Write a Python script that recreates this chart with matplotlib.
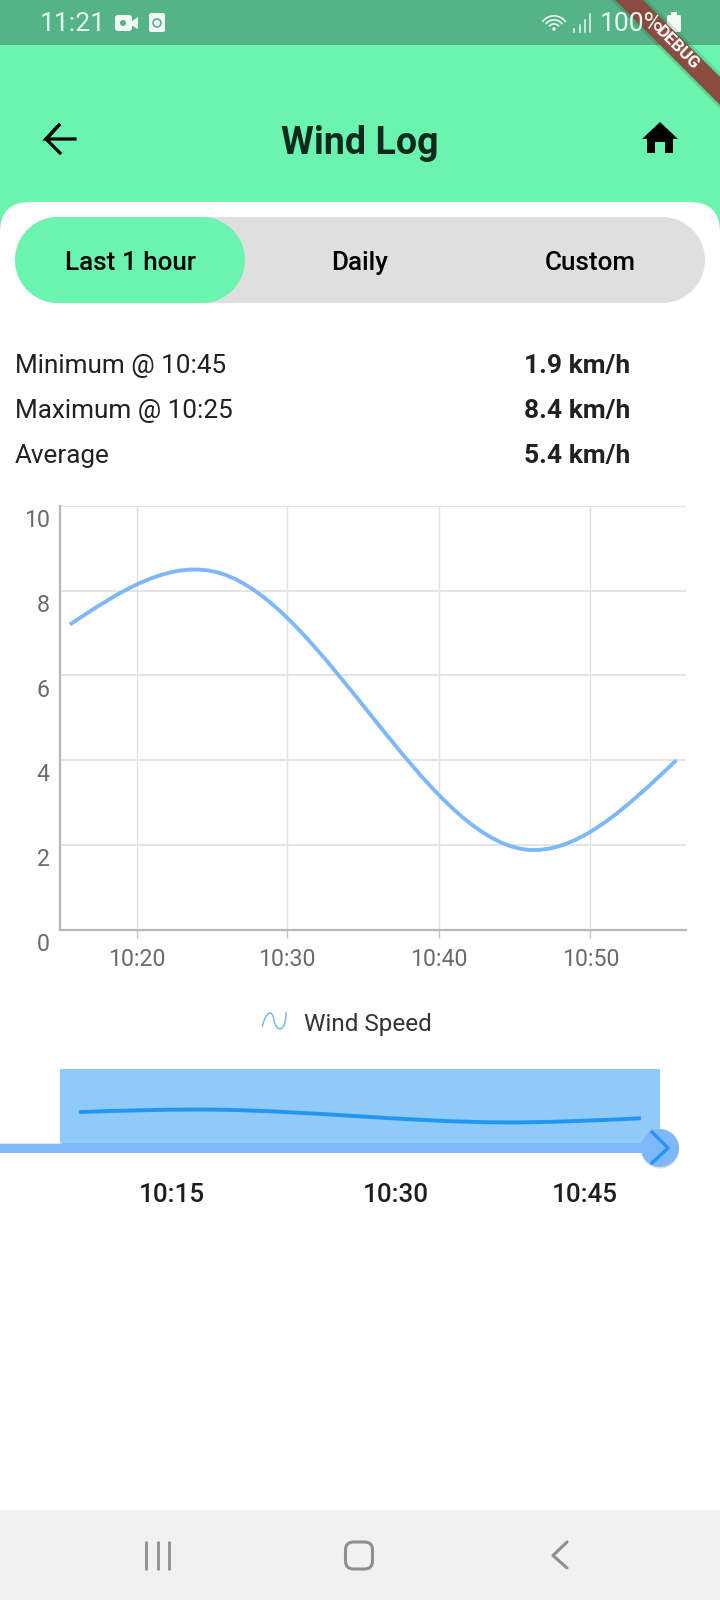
#!/usr/bin/env python3
import numpy as np
import matplotlib
matplotlib.use('Agg')
import matplotlib.pyplot as plt
from matplotlib.patches import Rectangle, FancyBboxPatch, Polygon, Circle, Arc, PathPatch
from matplotlib.path import Path

plt.rcParams['font.family'] = ['Roboto', 'DejaVu Sans']

# minutes after 10:00 and km/h, the five readings behind the curve
minutes = [15.57, 25.6, 35.62, 45.65, 55.68]
wind_speed = [7.2, 8.4, 5.0, 1.9, 4.0]
x_ticks = [20, 29.93, 40, 50]
x_labels = ['10:20', '10:30', '10:40', '10:50']
y_ticks = [0, 2, 4, 6, 8, 10]
range_labels = ['10:15', '10:30', '10:45']
tabs = ['Last 1 hour', 'Daily', 'Custom']
stat_names = ['Minimum @ 10:45', 'Maximum @ 10:25', 'Average']
stat_values = ['1.9 km/h', '8.4 km/h', '5.4 km/h']

W, H = 720, 1600
GREEN = '#6AF4B0'
BLUE = '#7FB8F9'
DARK_BLUE = '#2196F3'


def px_axes(x0, y0, x1, y1, **kw):
    # axes placed with screen pixels, y going down
    return fig.add_axes([x0 / W, 1 - y1 / H, (x1 - x0) / W, (y1 - y0) / H], **kw)


def spline_path(xs, ys):
    # natural cubic spline through the readings, as bezier segments (the app draws it this way)
    xs, ys = np.asarray(xs), np.asarray(ys)
    h = np.diff(xs)
    n = len(xs)
    A = np.zeros((n, n))
    b = np.zeros(n)
    A[0, 0] = A[-1, -1] = 1
    for i in range(1, n - 1):
        A[i, i - 1:i + 2] = h[i - 1], 2 * (h[i - 1] + h[i]), h[i]
        b[i] = 6 * ((ys[i + 1] - ys[i]) / h[i] - (ys[i] - ys[i - 1]) / h[i - 1])
    m = np.linalg.solve(A, b)
    verts = [(xs[0], ys[0])]
    codes = [Path.MOVETO]
    for i in range(n - 1):
        d0 = (ys[i + 1] - ys[i]) / h[i] - h[i] * (2 * m[i] + m[i + 1]) / 6
        d1 = (ys[i + 1] - ys[i]) / h[i] + h[i] * (m[i] + 2 * m[i + 1]) / 6
        verts += [(xs[i] + h[i] / 3, ys[i] + d0 * h[i] / 3),
                  (xs[i + 1] - h[i] / 3, ys[i + 1] - d1 * h[i] / 3),
                  (xs[i + 1], ys[i + 1])]
        codes += [Path.CURVE4] * 3
    return Path(verts, codes)


def stadium(ax_, x, y, w, h, color):
    r = h / 2
    ax_.add_patch(Circle((x + r, y + r), r, color=color, lw=0))
    ax_.add_patch(Circle((x + w - r, y + r), r, color=color, lw=0))
    ax_.add_patch(Rectangle((x + r, y), w - h, h, color=color, lw=0))


fig = plt.figure(figsize=(7.2, 16), dpi=100, facecolor='white')

# whole screen layer for the app chrome
ui = fig.add_axes([0, 0, 1, 1], zorder=0)
ui.set_xlim(0, W)
ui.set_ylim(H, 0)
ui.axis('off')

ui.add_patch(Rectangle((0, 0), W, 240, color=GREEN, lw=0))
ui.add_patch(Rectangle((0, 0), W, 45, color='#54B487', lw=0))
ui.add_patch(FancyBboxPatch((0, 202), W, 1400, boxstyle='round,pad=0,rounding_size=30', color='white', lw=0))
ui.add_patch(Rectangle((0, 1510), W, 90, color='#F1F1F1', lw=0))

# status bar
ui.text(40, 24, '11:21', color='#E9F6F0', fontsize=19, va='center', ha='left')
ui.add_patch(FancyBboxPatch((115, 15), 17, 16, boxstyle='round,pad=0,rounding_size=3', color='#F2FAF6', lw=0))
ui.add_patch(Polygon([(131, 22), (138, 17), (138, 29), (131, 25)], color='#F2FAF6', lw=0))
ui.add_patch(Circle((123, 23), 3, color='#54B487', lw=0))
ui.add_patch(FancyBboxPatch((149, 13), 16, 19, boxstyle='round,pad=0,rounding_size=2', color='#F2FAF6', lw=0))
ui.add_patch(Circle((157, 23), 4, fill=False, ec='#54B487', lw=1.2))
for r in (9, 15, 21):
    ui.add_patch(Arc((554, 30), r * 1.35, r * 1.35, theta1=215, theta2=325, color='#E9F6F0', lw=1.2))
ui.add_patch(Circle((554, 29), 1.8, color='#E9F6F0', lw=0))
for bx, top in zip((574, 580, 585, 590), (29, 25, 20, 14)):
    ui.plot([bx, bx], [top, 32], color='#E9F6F0', lw=1.1)
ui.text(600, 24, '100%', color='#E9F6F0', fontsize=19, va='center', ha='left')
ui.add_patch(FancyBboxPatch((667, 15), 14, 17, boxstyle='round,pad=0,rounding_size=1.5', color='#F2FAF6', lw=0))
ui.add_patch(Rectangle((671, 12), 6, 3, color='#F2FAF6', lw=0))

# debug ribbon
ui.add_patch(Polygon([(611, 0), (647, 0), (720, 73), (720, 109)], color='black', lw=0, alpha=0.12))
ui.add_patch(Polygon([(615, 0), (643, 0), (720, 77), (720, 105)], color='#8C4A3C', lw=0, alpha=0.97))
ui.text(677, 48, 'DEBUG', color='white', fontsize=12.3, fontweight='bold', rotation=-45,
        rotation_mode='anchor', ha='center', va='center')

# header
ui.plot([75, 46, 60, 46, 60], [139, 139, 124, 139, 153], color='#050505', lw=2.3, solid_joinstyle='miter')
ui.text(360, 143, 'Wind Log', color='#0F2A1C', fontsize=27, fontweight='bold', ha='center', va='center')
ui.add_patch(Polygon([(660, 122), (678, 139), (673, 139), (673, 153), (665, 153), (665, 142), (655, 142),
                      (655, 153), (647, 153), (647, 139), (642, 139)], color='black', lw=0))

# tab switch
stadium(ui, 15, 217, 690, 86, '#DFDFDF')
stadium(ui, 15, 217, 230, 86, GREEN)
for tab, tx in zip(tabs, (130, 360, 590)):
    ui.text(tx, 263, tab, color='black', fontsize=18.7, fontweight='medium', ha='center', va='center')

# min / max / average rows
for name, value, ty in zip(stat_names, stat_values, (366, 411, 456)):
    ui.text(15, ty, name, color='#212121', fontsize=18.85, ha='left', va='center')
    ui.text(524, ty, value, color='#212121', fontsize=19, fontweight='bold', ha='left', va='center')

# main chart
ax = px_axes(60, 505.7, 686, 930, zorder=2)
ax.patch.set_alpha(0)
ax.add_patch(PathPatch(spline_path(minutes, wind_speed), fill=False, ec=BLUE, lw=2.8, capstyle='butt', zorder=3))
ax.set_xlim(14.92, 56.32)
ax.set_ylim(0, 10)
ax.set_xticks(x_ticks)
ax.set_xticklabels(x_labels)
ax.set_yticks(y_ticks)
ax.set_yticklabels([])
ax.tick_params(axis='x', length=5.5, width=1, color='#C4C4C4', labelsize=16.7, labelcolor='#6B6B6B', pad=7.5)
ax.tick_params(axis='y', length=0)
ax.xaxis.grid(True, color='#E2E2E2', lw=1)
ax.yaxis.grid(True, color='#E4E4E4', lw=1.4)
ax.set_axisbelow(True)
for side in ('top', 'right'):
    ax.spines[side].set_visible(False)
for side in ('left', 'bottom'):
    ax.spines[side].set_color('#B7B7B7')
    ax.spines[side].set_linewidth(1.6)
# y labels sit below their gridlines in the original
for val in y_ticks:
    ax.annotate(str(val), (0, val), xycoords=('axes fraction', 'data'), xytext=(-7.5, -10.5),
                textcoords='offset points', ha='right', va='center', fontsize=16.7, color='#6B6B6B')

# legend
ui.add_patch(PathPatch(Path([(262, 1027), (266, 1012), (272, 1008), (274, 1020), (276, 1032), (286, 1034), (286, 1012)],
                            [Path.MOVETO] + [Path.CURVE4] * 6),
                       fill=False, ec=BLUE, lw=1.1))
ui.text(304, 1024.5, 'Wind Speed', color='#333333', fontsize=17.5, ha='left', va='center')

# range selector
ui.add_patch(Rectangle((0, 1143), 660, 10, color=BLUE, lw=0))
ui.plot([0, 60], [1142.5, 1142.5], color='#E4E4E4', lw=0.8)
rs = px_axes(60, 1068.7, 660, 1143, zorder=2)
rs.set_facecolor('#90CAF9')
rs.add_patch(PathPatch(spline_path(minutes, wind_speed), fill=False, ec=DARK_BLUE, lw=2.8, capstyle='butt'))
rs.set_xlim(14.21, 57.04)
rs.set_ylim(-8.70, 29.48)
rs.set_xticks([])
rs.set_yticks([])
for spine in rs.spines.values():
    spine.set_visible(False)
ui2 = fig.add_axes([0, 0, 1, 1], zorder=3)
ui2.set_xlim(0, W)
ui2.set_ylim(H, 0)
ui2.axis('off')
ui2.add_patch(Circle((660, 1149.5), 19, color='#C9C9C9', lw=0, alpha=0.6))
ui2.add_patch(Circle((660, 1148), 19, color=BLUE, lw=0))
ui2.plot([652, 668, 652], [1132, 1148, 1163], color=DARK_BLUE, lw=2.4, solid_joinstyle='miter')
for label, tx in zip(range_labels, (172, 396, 585)):
    ui.text(tx, 1195, label, color='#1E1E1E', fontsize=18.7, fontweight='medium', ha='center', va='center')

# android nav bar
for nx in (146, 157.5, 168.5):
    ui.plot([nx, nx], [1542, 1569], color='#8F8F8F', lw=2, solid_capstyle='round')
ui.add_patch(FancyBboxPatch((345.5, 1542), 27, 27, boxstyle='round,pad=0,rounding_size=8', fill=False, ec='#8F8F8F', lw=2.2))
ui.plot([567, 553, 567], [1542, 1555.5, 1568], color='#8F8F8F', lw=2.2, solid_capstyle='round')

plt.savefig('out.png', dpi=100)
